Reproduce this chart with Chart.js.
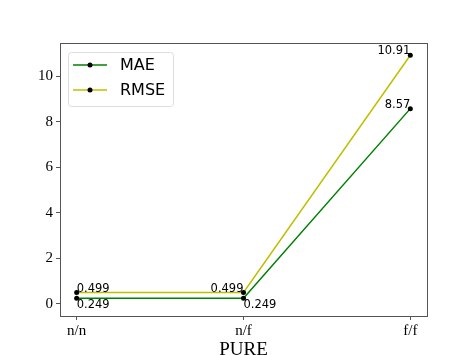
<!DOCTYPE html>
<html>
<head>
<meta charset="utf-8">
<script src="https://cdn.jsdelivr.net/npm/chart.js@4/dist/chart.umd.min.js"></script>
<style>
  html, body { margin: 0; padding: 0; background: #fff; }
  #wrap { width: 474px; height: 355px; }
</style>
</head>
<body>
<div id="wrap"><canvas id="chart"></canvas></div>
<script>
// chart data
var categories = ['n/n', 'n/f', 'f/f'];
var maeValues = [0.249, 0.249, 8.57];
var rmseValues = [0.499, 0.499, 10.91];
var yTicks = [0, 2, 4, 6, 8, 10];
var xTitle = 'PURE';

function toPoints(vals) {
  return vals.map(function(v, i) { return { x: i, y: v }; });
}

// text next to each point: [dataset, index, align, above]
var pointLabels = [
  [1, 0, 'left', true],
  [1, 1, 'right', true],
  [0, 0, 'left', false],
  [0, 1, 'left', false],
  [1, 2, 'right', true],
  [0, 2, 'right', true]
];

var extras = {
  id: 'extras',
  afterDraw: function(chart) {
    var ctx = chart.ctx;
    var a = chart.chartArea;
    var xs = chart.scales.x, ys = chart.scales.y;
    ctx.save();
    // frame
    ctx.strokeStyle = '#555';
    ctx.lineWidth = 1;
    ctx.strokeRect(a.left + 0.5, a.top + 0.5, a.right - a.left, a.bottom - a.top);

    // value labels
    ctx.fillStyle = '#000';
    ctx.font = '11.5px "DejaVu Sans"';
    pointLabels.forEach(function(p) {
      var ds = chart.data.datasets[p[0]];
      var pt = ds.data[p[1]];
      var px = xs.getPixelForValue(pt.x), py = ys.getPixelForValue(pt.y);
      ctx.textAlign = p[2];
      ctx.textBaseline = p[3] ? 'alphabetic' : 'top';
      ctx.fillText(String(pt.y), px, p[3] ? py - 1 : py + 1);
    });

    // x title
    ctx.font = '19px "Liberation Serif"';
    ctx.textAlign = 'center';
    ctx.textBaseline = 'alphabetic';
    ctx.fillText(xTitle, (a.left + a.right) / 2, 355);

    // legend box
    var lx = 68, ly = 52, lw = 105, lh = 54;
    ctx.fillStyle = 'rgba(255,255,255,0.85)';
    ctx.strokeStyle = '#ddd';
    ctx.beginPath();
    ctx.roundRect(lx + 0.5, ly + 0.5, lw, lh, 3);
    ctx.fill();
    ctx.stroke();
    chart.data.datasets.forEach(function(ds, i) {
      var y = 65 + i * 25;
      ctx.strokeStyle = ds.borderColor;
      ctx.lineWidth = 1.5;
      ctx.beginPath();
      ctx.moveTo(73, y);
      ctx.lineTo(107, y);
      ctx.stroke();
      ctx.fillStyle = '#000';
      ctx.beginPath();
      ctx.arc(90, y, 2.5, 0, Math.PI * 2);
      ctx.fill();
      ctx.font = '16px "DejaVu Sans"';
      ctx.textAlign = 'left';
      ctx.textBaseline = 'middle';
      ctx.fillText(ds.label, 120, y + 1);
    });
    ctx.restore();
  }
};

new Chart(document.getElementById('chart'), {
  type: 'line',
  data: {
    datasets: [
      {
        label: 'MAE',
        data: toPoints(maeValues),
        borderColor: '#008000',
        borderWidth: 1.5,
        pointRadius: 2.5,
        pointBackgroundColor: '#000',
        pointBorderWidth: 0,
        tension: 0
      },
      {
        label: 'RMSE',
        data: toPoints(rmseValues),
        borderColor: '#bfbf00',
        borderWidth: 1.5,
        pointRadius: 2.5,
        pointBackgroundColor: '#000',
        pointBorderWidth: 0,
        tension: 0
      }
    ]
  },
  options: {
    responsive: true,
    maintainAspectRatio: false,
    animation: false,
    layout: { padding: { top: 43, right: 47, left: 0, bottom: 0 } },
    plugins: { legend: { display: false }, tooltip: { enabled: false } },
    scales: {
      x: {
        type: 'linear',
        min: -0.1,
        max: 2.1,
        afterFit: function(s) { s.height = 39; },
        afterBuildTicks: function(s) {
          s.ticks = categories.map(function(c, i) { return { value: i }; });
        },
        ticks: {
          callback: function(v) { return categories[v]; },
          color: '#000',
          font: { family: 'Liberation Serif', size: 15 },
          padding: 2,
          maxRotation: 0
        },
        grid: { drawOnChartArea: false, drawTicks: true, tickLength: 4, color: '#555' },
        border: { display: false }
      },
      y: {
        min: -0.53,
        max: 11.45,
        afterFit: function(s) { s.width = 60; },
        afterBuildTicks: function(s) {
          s.ticks = yTicks.map(function(v) { return { value: v }; });
        },
        ticks: {
          color: '#000',
          font: { family: 'Liberation Serif', size: 15 },
          padding: 3
        },
        grid: { drawOnChartArea: false, drawTicks: true, tickLength: 4, color: '#555' },
        border: { display: false }
      }
    }
  },
  plugins: [extras]
});
</script>
</body>
</html>
